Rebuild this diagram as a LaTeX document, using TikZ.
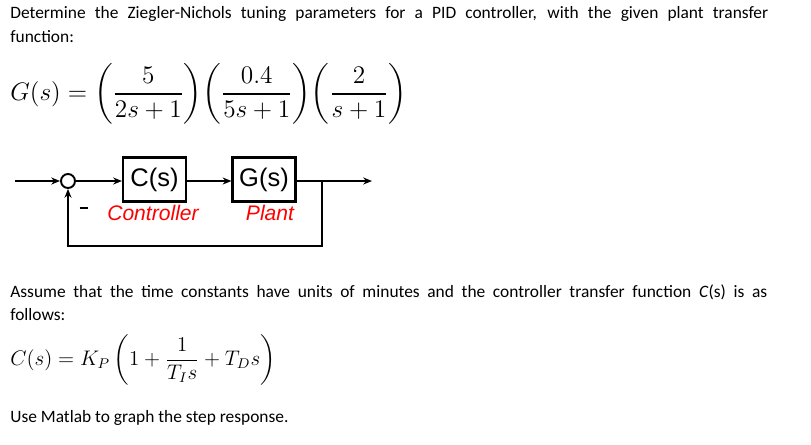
\documentclass[tikz,border=0pt]{standalone}
\usepackage{fontspec}
\usepackage{amsmath}
\setmainfont{Carlito}
\newfontfamily\arialf{Liberation Sans}
\usetikzlibrary{arrows.meta}
\begin{document}
\begin{tikzpicture}[x=0.02cm,y=-0.02cm,
  txt/.style={anchor=west,inner sep=0pt,font=\fontsize{9.9}{12}\selectfont},
  blk/.style={draw,line width=1.2pt,minimum width=1.26cm,minimum height=0.88cm,inner sep=0pt,font=\arialf\fontsize{14.5}{16}\selectfont},
  lab/.style={text=red,font=\arialf\itshape\fontsize{12}{14}\selectfont,inner sep=0pt},
  wire/.style={line width=1.1pt},
  arr/.style={wire,-{Stealth[length=5pt,width=4pt]}}]
\useasboundingbox (0,0) rectangle (811,444);
\node[txt] (t1) at (10,14) {\makebox[15.16cm][s]{Determine the Ziegler-Nichols tuning parameters for a PID controller, with the given plant transfer}};
\node[txt] (t2) at (10,37) {function:};
\node[anchor=west,inner sep=0pt] (g) at (10,94) {\fontsize{13.5}{16}\selectfont $G(s)=\left(\dfrac{5}{2s+1}\right)\!\left(\dfrac{0.4}{5s+1}\right)\!\left(\dfrac{2}{s+1}\right)$};
\coordinate (in) at (15,181);
\node[draw,circle,wire,minimum size=0.28cm,inner sep=0pt] (sum) at (68,181) {};
\node[blk] (c) at (154.5,179.5) {C(s)};
\node[blk] (p) at (264,179.5) {G(s)};
\coordinate (br) at (322,181);
\coordinate (out) at (372,181);
\coordinate (bl) at (322,246);
\coordinate (bb) at (68,246);
\draw[arr] (in) -- (sum.west);
\draw[arr] (sum.east) -- (c.west |- sum.east);
\draw[arr] (c.east |- sum.east) -- (p.west |- sum.east);
\draw[arr] (p.east |- sum.east) -- (out);
\draw[arr] (br) -- (bl) -- (bb) -- (sum.south);
\node[inner sep=0pt] (minus) at (84,208) {\rule{0.18cm}{1.3pt}};
\node[lab] (cl) at (153,213) {Controller};
\node[lab] (pl) at (270,213) {Plant};
\node[txt] (t3) at (10,292) {\makebox[15.14cm][s]{Assume that the time constants have units of minutes and the controller transfer function \textit{C}(s) is as}};
\node[txt] (t4) at (10,315) {follows:};
\node[anchor=west,inner sep=0pt] (cf) at (10,360) {\fontsize{12}{14}\selectfont $C(s)=K_P\left(1+\dfrac{1}{T_Is}+T_Ds\right)$};
\node[txt] (t5) at (10,418) {Use Matlab to graph the step response.};
\end{tikzpicture}
\end{document}
